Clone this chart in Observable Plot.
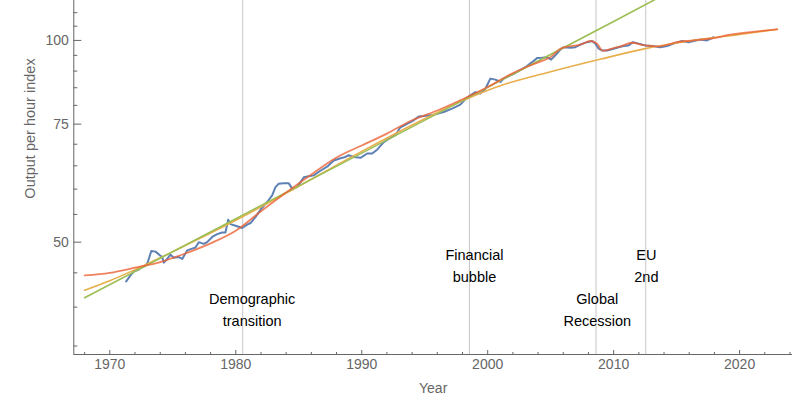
<!DOCTYPE html>
<html>
<head>
<meta charset="utf-8">
<script src="https://cdn.jsdelivr.net/npm/d3@7"></script>
<script src="https://cdn.jsdelivr.net/npm/@observablehq/plot@0.6"></script>
<style>
  html, body { margin: 0; padding: 0; background: #fff; }
  #chart svg { display: block; }
</style>
</head>
<body>
<div id="chart"></div>
<script>
// Observed output per hour index (quarterly-ish readings)
const dataYears = [1971.30,1971.64,1971.90,1972.30,1972.44,1972.83,1973.02,1973.29,1973.63,1973.97,
  1974.16,1974.29,1974.50,1974.82,1975.08,1975.48,1975.75,1976.14,1976.54,1976.80,
  1977.06,1977.46,1977.73,1978.13,1978.52,1978.92,1979.18,1979.40,1979.58,1979.98,
  1980.51,1980.90,1981.17,1981.56,1981.96,1982.49,1982.89,1983.15,1983.41,1983.81,
  1984.21,1984.48,1984.87,1985.40,1985.79,1986.19,1986.72,1987.25,1987.78,1988.31,
  1988.71,1988.97,1989.37,1989.90,1990.43,1990.83,1991.22,1991.75,1992.14,1992.67,
  1993.07,1993.60,1994.13,1994.52,1994.92,1995.45,1995.98,1996.51,1997.17,1997.83,
  1998.20,1998.63,1999.02,1999.42,1999.82,2000.21,2000.61,2001.01,2001.27,2001.80,
  2002.20,2002.60,2002.99,2003.52,2003.92,2004.32,2004.71,2005.03,2005.37,2005.77,
  2006.03,2006.56,2006.96,2007.36,2007.89,2008.29,2008.55,2008.81,2009.08,2009.48,
  2010.00,2010.40,2010.79,2011.19,2011.54,2011.98,2012.52,2013.05,2013.71,2014.24,
  2014.76,2015.43,2015.95,2016.35,2016.88,2017.41,2017.94];
const dataValues = [43.7,44.6,45.2,45.5,45.8,46.1,46.7,48.5,48.4,47.8,
  47.5,46.6,47.1,47.9,47.4,47.5,47.2,48.6,48.9,49.1,
  50.0,49.7,50.0,50.9,51.4,51.7,51.7,54.0,53.2,52.9,
  52.5,53.1,53.4,54.5,55.9,57.4,58.7,60.4,61.1,61.2,
  61.2,60.1,60.4,62.5,62.7,62.9,63.9,64.8,66.2,66.7,
  67.0,67.4,67.0,66.8,67.8,67.8,68.7,70.5,71.3,72.2,
  74.2,75.1,76.0,77.0,77.1,77.3,77.7,78.2,79.1,80.2,
  81.6,82.8,83.7,83.3,84.7,87.7,87.4,86.7,87.7,88.7,
  89.4,90.4,91.2,92.8,94.1,94.2,94.4,93.6,95.0,96.9,
  97.7,97.5,97.7,98.6,99.4,99.8,98.9,97.2,96.6,96.6,
  97.2,97.7,98.1,98.3,99.4,98.9,98.3,98.1,97.7,98.1,
  98.9,99.8,99.4,99.8,100.3,100.0,101.1];

// Piecewise fitted model (red-orange)
const pieceYears = [1968,1970,1972,1974,1976,1978,1980,1982,1984,1986,1988,1990,1992,1994,1996,1998,2000,
  2001.8,2003.39,2004.98,2005.77,2007.36,2008.15,2008.68,2009.08,2009.6,2010.53,2011.46,2012.25,2013.05,
  2013.71,2015.03,2016.35,2017.94,2019.26,2023];
const pieceValues = [44.6,45.0,45.8,46.7,48.1,49.8,52.0,55.6,59.3,63.1,66.9,69.7,72.6,76.0,78.6,81.7,85.2,
  89.0,91.8,94.4,97.2,98.6,99.8,98.9,96.6,96.9,98.0,99.2,98.5,98.1,
  98.0,99.4,100.0,100.8,102.0,103.9];

// Saturating (logistic) fit (orange)
const logisticYears = [1968,1970,1972,1975,1980,1985,1990,1995,1998.6,2001,2005,2009,2012.6,2016,2020,2023];
const logisticValues = [42.4,43.8,45.5,48.4,53.9,60.6,68.3,76.4,82.2,85.6,89.8,93.8,97.3,99.8,102.1,103.9];

// Exponential trend (green)
const expYears = [1968,1980,1990,2000,2010,2014];
const expValues = [41.3,54.2,67.9,85.1,106.7,117.0];

// Event markers and annotations
const eventYears = [1980.55, 1998.55, 2008.6, 2012.55];
const noteYears = [1981.3, 1998.95, 2008.7, 2012.6];
const noteValues = [39.9, 46.4, 39.9, 46.4];
const noteLabels = ["Demographic\ntransition", "Financial\nbubble", "Global\nRecession", "EU\n2nd"];

// Axis ticks
const xMajor = [1970, 1980, 1990, 2000, 2010, 2020];
const xMinor = d3.range(1968, 2025, 2).filter(d => d % 10 !== 0);
const yMajor = [50, 75, 100];
const yMinor = d3.range(35, 111, 5).filter(d => !yMajor.includes(d));

const xDomain = [1967.14, 2024.2];
const yDomain = [33.99, 114.7];

const W = 792, H = 416, ML = 73.3, MR = 0, MT = 0, MB = 62;
const plotW = W - ML - MR, plotH = H - MT - MB;

const toRows = (xs, ys) => xs.map((x, i) => ({x, y: ys[i]}));
const data = toRows(dataYears, dataValues);
const piece = toRows(pieceYears, pieceValues);
const logistic = toRows(logisticYears, logisticValues);
const expo = toRows(expYears, expValues);
const notes = noteYears.map((x, i) => ({x, y: noteValues[i], label: noteLabels[i]}));

const axisColor = "#666666";
const font = "'Liberation Sans', Arial, sans-serif";

const chart = Plot.plot({
  width: W, height: H,
  marginLeft: ML, marginRight: MR, marginTop: MT, marginBottom: MB,
  style: {fontFamily: font, background: "#fff", overflow: "visible"},
  x: {domain: xDomain, axis: null},
  y: {type: "log", domain: yDomain, axis: null},
  marks: [
    Plot.ruleX(eventYears, {stroke: "#c6c6c6", strokeWidth: 1}),
    Plot.line(data, {x: "x", y: "y", stroke: "#5E81B5", strokeWidth: 2, clip: true}),
    Plot.line(logistic, {x: "x", y: "y", stroke: "#E9AE4C", strokeWidth: 1.6, curve: "catmull-rom", clip: true}),
    Plot.line(expo, {x: "x", y: "y", stroke: "#9DBE55", strokeWidth: 1.6, clip: true}),
    Plot.line(piece, {x: "x", y: "y", stroke: "#EB6235", strokeOpacity: 0.8, strokeWidth: 1.8, curve: "catmull-rom", clip: true}),
    // frame axes
    Plot.ruleX([xDomain[0]], {stroke: axisColor, strokeWidth: 1}),
    Plot.ruleY([yDomain[0]], {stroke: axisColor, strokeWidth: 1}),
    // inward ticks
    Plot.tickY(yMajor, {y: d => d, stroke: axisColor, insetRight: plotW - 8}),
    Plot.tickY(yMinor, {y: d => d, stroke: axisColor, insetRight: plotW - 4}),
    Plot.tickX(xMajor, {x: d => d, stroke: axisColor, insetTop: plotH - 4}),
    Plot.tickX(xMinor, {x: d => d, stroke: axisColor, insetTop: plotH - 2}),
    // tick labels
    Plot.text(yMajor, {y: d => d, text: d => String(d), frameAnchor: "left", textAnchor: "end", dx: -5, fill: axisColor, fontSize: 14}),
    Plot.text(xMajor, {x: d => d, text: d => String(d), frameAnchor: "bottom", lineAnchor: "middle", dy: 10.5, fill: axisColor, fontSize: 14}),
    // axis titles
    Plot.text(["Year"], {text: d => d, frameAnchor: "bottom", lineAnchor: "middle", dy: 34, fill: axisColor, fontSize: 14}),
    Plot.text(["Output per hour index"], {text: d => d, frameAnchor: "top-left", rotate: -90, textAnchor: "middle", lineAnchor: "middle", dx: -43.3, dy: 128, fill: axisColor, fontSize: 14.5}),
    // annotations
    Plot.text(notes, {x: "x", y: "y", text: "label", textAnchor: "middle", lineAnchor: "middle", lineHeight: 1.52, fill: "#000", fontSize: 14.5})
  ]
});
document.getElementById("chart").appendChild(chart);
</script>
</body>
</html>
